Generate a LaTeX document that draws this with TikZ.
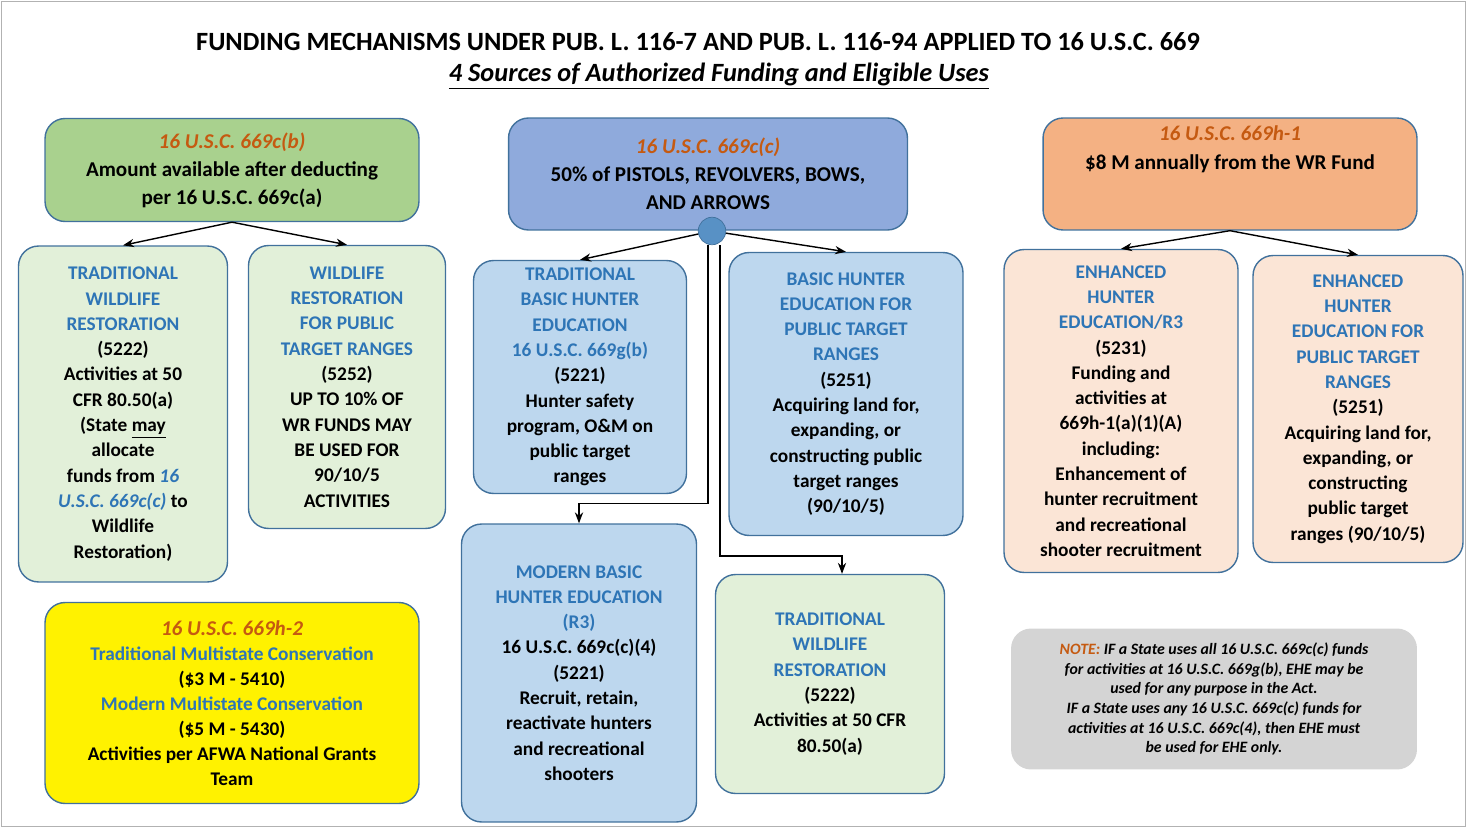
\documentclass[tikz,border=0pt]{standalone}
\usepackage{fontspec}
\setmainfont{Carlito}
\usetikzlibrary{arrows.meta}
\definecolor{frame}{HTML}{41719C}
\definecolor{srcgreen}{HTML}{A9D18E}
\definecolor{srcblue}{HTML}{8FAADC}
\definecolor{srcorange}{HTML}{F4B183}
\definecolor{lgreen}{HTML}{E2F0D9}
\definecolor{lblue}{HTML}{BDD7EE}
\definecolor{lorange}{HTML}{FBE5D6}
\definecolor{cite}{HTML}{C55A11}
\definecolor{hdr}{HTML}{2E75B6}
\tikzset{
  box/.style={rectangle, rounded corners=0.4cm, draw=frame, line width=0.8pt, align=center, font=\fontsize{11}{14.4}\selectfont\bfseries, inner sep=2pt},
  source/.style={box, fill=srcgreen, font=\fontsize{12}{16}\selectfont\bfseries},
  use/.style={box, fill=lgreen},
  arrow/.style={thick,-{Stealth[length=2.2mm]}},
}
\newcommand{\cit}[1]{{\color{cite}\itshape #1}}
\newcommand{\hd}[1]{{\color{hdr}#1}}
\begin{document}
\begin{tikzpicture}[x=0.02cm,y=-0.02cm]
\useasboundingbox (0,0) rectangle (1466,827);
\draw[gray!60] (1,1) rectangle (1465,826);

\node (title) at (698,42) {\fontsize{15}{18}\selectfont\bfseries FUNDING MECHANISMS UNDER PUB. L. 116-7 AND PUB. L. 116-94 APPLIED TO 16 U.S.C. 669};
\node (subtitle) at (719,76) {\fontsize{15}{18}\selectfont\bfseries\itshape\underline{4 Sources of Authorized Funding and Eligible Uses}};

% sources
\node (wrsrc) [source, minimum width=7.48cm, minimum height=2.06cm] at (232,170) {\cit{16 U.S.C. 669c(b)}\\Amount available after deducting\\per 16 U.S.C. 669c(a)};
\node (pistol) [source, fill=srcblue, minimum width=7.98cm, minimum height=2.24cm] at (708,174) {\cit{16 U.S.C. 669c(c)}\\50\% of PISTOLS, REVOLVERS, BOWS,\\AND ARROWS};
\node (wrfund) [source, fill=srcorange, minimum width=7.48cm, minimum height=2.24cm] at (1230,174) {\cit{16 U.S.C. 669h-1}\\\$8 M annually from the WR Fund\\[14pt]};
\node (hub) [circle, fill=hdr!80, draw=frame, minimum size=0.55cm, inner sep=0pt] at (712,231) {};

% uses
\node (trwr) [use, minimum width=4.18cm, minimum height=6.72cm] at (123,414) {\hd{TRADITIONAL}\\\hd{WILDLIFE}\\\hd{RESTORATION}\\(5222)\\Activities at 50\\CFR 80.50(a)\\(State \underline{may}\\allocate\\funds from \hd{\itshape 16}\\\hd{\itshape U.S.C. 669c(c)} to\\Wildlife\\Restoration)};
\node (wrrange) [use, minimum width=3.94cm, minimum height=5.66cm] at (347,387) {\hd{WILDLIFE}\\\hd{RESTORATION}\\\hd{FOR PUBLIC}\\\hd{TARGET RANGES}\\(5252)\\UP TO 10\% OF\\WR FUNDS MAY\\BE USED FOR\\90/10/5\\ACTIVITIES};
\node (trhe) [box, fill=lblue, minimum width=4.26cm, minimum height=4.66cm] at (580,377) {\hd{TRADITIONAL}\\\hd{BASIC HUNTER}\\\hd{EDUCATION}\\\hd{16 U.S.C. 669g(b)}\\(5221)\\Hunter safety\\program, O\&M on\\public target\\ranges};
\node (herange) [box, fill=lblue, minimum width=4.68cm, minimum height=5.66cm] at (846,394) {\hd{BASIC HUNTER}\\\hd{EDUCATION FOR}\\\hd{PUBLIC TARGET}\\\hd{RANGES}\\(5251)\\Acquiring land for,\\expanding, or\\constructing public\\target ranges\\(90/10/5)};
\node (modhe) [box, fill=lblue, minimum width=4.7cm, minimum height=5.96cm] at (579,673) {\hd{MODERN BASIC}\\\hd{HUNTER EDUCATION}\\\hd{(R3)}\\16 U.S.C. 669c(c)(4)\\(5221)\\Recruit, retain,\\reactivate hunters\\and recreational\\shooters};
\node (trwr2) [use, minimum width=4.58cm, minimum height=4.38cm] at (830,684) {\hd{TRADITIONAL}\\\hd{WILDLIFE}\\\hd{RESTORATION}\\(5222)\\Activities at 50 CFR\\80.50(a)};
\node (ehe) [box, fill=lorange, minimum width=4.68cm, minimum height=6.46cm] at (1121,411) {\hd{ENHANCED}\\\hd{HUNTER}\\\hd{EDUCATION/R3}\\(5231)\\Funding and\\activities at\\669h-1(a)(1)(A)\\including:\\Enhancement of\\hunter recruitment\\and recreational\\shooter recruitment};
\node (ehrange) [box, fill=lorange, minimum width=4.2cm, minimum height=6.14cm] at (1358,409) {\hd{ENHANCED}\\\hd{HUNTER}\\\hd{EDUCATION FOR}\\\hd{PUBLIC TARGET}\\\hd{RANGES}\\(5251)\\Acquiring land for,\\expanding, or\\constructing\\public target\\ranges (90/10/5)};
\node (multi) [box, fill=yellow, minimum width=7.48cm, minimum height=4.02cm, font=\fontsize{11}{14.2}\selectfont\bfseries] at (232,703) {\cit{\fontsize{12}{14}\selectfont 16 U.S.C. 669h-2}\\\hd{Traditional Multistate Conservation}\\(\$3 M - 5410)\\\hd{Modern Multistate Conservation}\\(\$5 M - 5430)\\Activities per AFWA National Grants\\Team};
\node (note) [rectangle, rounded corners=0.4cm, fill=black!17, minimum width=8.12cm, minimum height=2.82cm, align=center, font=\fontsize{9}{11.2}\selectfont\bfseries\itshape] at (1214,699) {{\color{cite}NOTE:} IF a State uses all 16 U.S.C. 669c(c) funds\\for activities at 16 U.S.C. 669g(b), EHE may be\\used for any purpose in the Act.\\IF a State uses any 16 U.S.C. 669c(c) funds for\\activities at 16 U.S.C. 669c(4), then EHE must\\be used for EHE only.};

% connectors
\draw [arrow] (wrsrc.south) -- (trwr.north);
\draw [arrow] (wrsrc.south) -- (wrrange.north);
\draw [arrow] (hub) -- (trhe.north);
\draw [arrow] (hub) -- (herange.north);
\draw [arrow] ([xshift=-0.08cm]hub.south) |- ([yshift=0.4cm]modhe.north) -- (modhe.north);
\draw [arrow] ([xshift=0.16cm]hub.south) |- ([xshift=0.24cm,yshift=0.36cm]trwr2.north) -- ([xshift=0.24cm]trwr2.north);
\draw [arrow] (wrfund.south) -- (ehe.north);
\draw [arrow] (wrfund.south) -- (ehrange.north);
\end{tikzpicture}
\end{document}
